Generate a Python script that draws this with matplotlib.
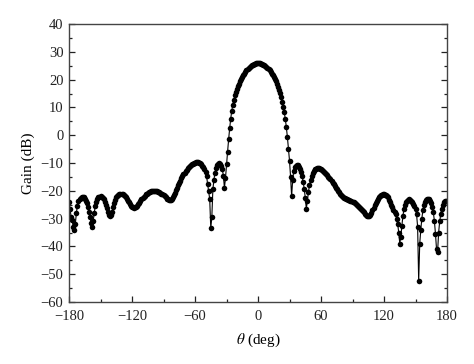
import matplotlib
matplotlib.use("Agg")
import matplotlib.pyplot as plt
import numpy as np
from matplotlib.ticker import MultipleLocator

# radiation pattern, one sample per degree
theta_deg = np.arange(-180, 181, 1)

gain_db = [
    # -180 .. -31
    -24.0, -26.5, -29.5, -30.5, -33.0, -34.0, -32.0, -28.0, -25.3, -23.8,
    -23.0, -22.6, -22.4, -22.3, -22.4, -22.8, -23.5, -24.5, -26.0, -27.5,
    -29.5, -31.5, -33.0, -31.0, -28.0, -25.5, -24.0, -23.0, -22.4, -22.1,
    -22.0, -22.1, -22.5, -23.1, -24.0, -25.0, -26.3, -27.6, -28.7, -29.2,
    -28.8, -27.6, -26.0, -24.5, -23.3, -22.4, -21.8, -21.4, -21.2, -21.1,
    -21.1, -21.2, -21.5, -21.9, -22.4, -23.0, -23.6, -24.2, -24.8, -25.3,
    -25.7, -26.0, -26.1, -26.0, -25.8, -25.4, -24.9, -24.3, -23.7, -23.1,
    -22.6, -22.1, -21.7, -21.3, -21.0, -20.7, -20.5, -20.3, -20.2, -20.1,
    -20.0, -20.0, -20.0, -20.1, -20.2, -20.3, -20.5, -20.7, -21.0, -21.3,
    -21.6, -22.0, -22.4, -22.8, -23.1, -23.3, -23.4, -23.3, -23.0, -22.4,
    -21.6, -20.7, -19.8, -18.9, -18.0, -17.1, -16.3, -15.5, -14.8, -14.1,
    -13.5, -12.9, -12.4, -11.9, -11.4, -11.0, -10.7, -10.4, -10.2, -10.0,
    -9.9, -9.8, -9.8, -9.8, -9.9, -10.1, -10.4, -10.9, -11.5, -12.3,
    -13.4, -14.8, -17.5, -20.0, -23.0, -33.5, -29.5, -19.5, -16.0, -13.5,
    -11.8, -10.8, -10.3, -10.1, -10.3, -11.0, -12.3, -14.5, -19.0, -15.5,
    # -30 .. 30 (main lobe)
    -10.5, -6.0, -1.5, 2.5, 6.0, 8.8, 11.0, 12.8, 14.3, 15.6,
    16.7, 17.7, 18.6, 19.4, 20.2, 20.9, 21.6, 22.2, 22.8, 23.3,
    23.8, 24.2, 24.6, 24.9, 25.2, 25.4, 25.6, 25.7, 25.8, 25.8,
    25.8, 25.8, 25.8, 25.7, 25.6, 25.4, 25.2, 24.9, 24.6, 24.2,
    23.8, 23.3, 22.8, 22.2, 21.6, 20.9, 20.2, 19.4, 18.5, 17.5,
    16.4, 15.1, 13.7, 12.0, 10.2, 8.2, 5.8, 2.8, -0.8, -4.8,
    -9.2,
    # 31 .. 180
    -15.0, -22.0, -16.0, -13.0, -11.5, -10.9, -10.7, -10.8, -11.3,
    -12.2, -13.3, -14.8, -16.8, -19.3, -22.5, -26.5, -23.5, -20.5, -18.0,
    -16.2, -14.8, -13.7, -12.9, -12.3, -12.0, -11.8, -11.8, -11.9, -12.1,
    -12.3, -12.6, -12.9, -13.2, -13.6, -14.0, -14.4, -14.9, -15.4, -15.9,
    -16.5, -17.1, -17.7, -18.3, -18.9, -19.5, -20.1, -20.6, -21.1, -21.5,
    -21.9, -22.2, -22.5, -22.7, -22.9, -23.1, -23.2, -23.4, -23.5, -23.7,
    -23.9, -24.1, -24.4, -24.7, -25.0, -25.3, -25.7, -26.1, -26.5, -26.9,
    -27.4, -27.8, -28.3, -28.6, -28.9, -29.1, -29.0, -28.6, -27.9, -27.0,
    -26.1, -25.2, -24.3, -23.5, -22.9, -22.3, -21.9, -21.6, -21.4, -21.3,
    -21.3, -21.4, -21.5, -21.8, -22.4, -23.2, -24.1, -25.0, -26.0, -27.0,
    -27.8, -28.5, -30.0, -32.0, -35.0, -39.0, -36.5, -32.5, -29.0, -26.5,
    -25.0, -24.0, -23.5, -23.2, -23.1, -23.2, -23.6, -24.0, -24.6, -25.4,
    -26.5, -28.5, -33.0, -52.5, -39.0, -34.0, -30.0, -27.0, -25.2, -24.0,
    -23.3, -23.0, -22.9, -23.1, -23.6, -24.5, -25.8, -27.8, -31.0, -35.5,
    -41.0, -42.0, -35.0, -31.0, -28.5, -26.5, -25.0, -24.2, -23.8, -23.7,
    -23.8,
]
assert len(gain_db) == len(theta_deg)

x_ticks = [-180, -120, -60, 0, 60, 120, 180]
y_ticks = [-60, -50, -40, -30, -20, -10, 0, 10, 20, 30, 40]

plt.rcParams['font.family'] = ['Liberation Serif', 'DejaVu Serif']
plt.rcParams['mathtext.fontset'] = 'stix'

fig = plt.figure(figsize=(4.74, 3.64), dpi=100)
ax = fig.add_axes([0.1456, 0.1703, 0.7975, 0.7637])

ax.plot(theta_deg, gain_db, color='black', lw=0.8, marker='o',
        markersize=4.0, markeredgewidth=0)

ax.set_xlim(-180, 180)
ax.set_ylim(-60, 40)
ax.set_xticks(x_ticks)
ax.set_yticks(y_ticks)
ax.xaxis.set_minor_locator(MultipleLocator(30))
ax.yaxis.set_minor_locator(MultipleLocator(5))

ax.tick_params(which='both', direction='in', top=False, right=True,
               labelsize=10.5, colors='#222222')
ax.tick_params(axis='x', which='major', pad=6)
ax.tick_params(axis='y', which='major', pad=4)
ax.tick_params(which='major', length=4, width=0.9)
ax.tick_params(which='minor', length=2.5, width=0.9)
for s in ax.spines.values():
    s.set_color('#444444')
    s.set_linewidth(1.0)

ax.set_xlabel(r'$\theta$ (deg)', fontsize=11, labelpad=6)
ax.set_ylabel('Gain (dB)', fontsize=11, labelpad=4)

fig.savefig('out.png', dpi=100)
